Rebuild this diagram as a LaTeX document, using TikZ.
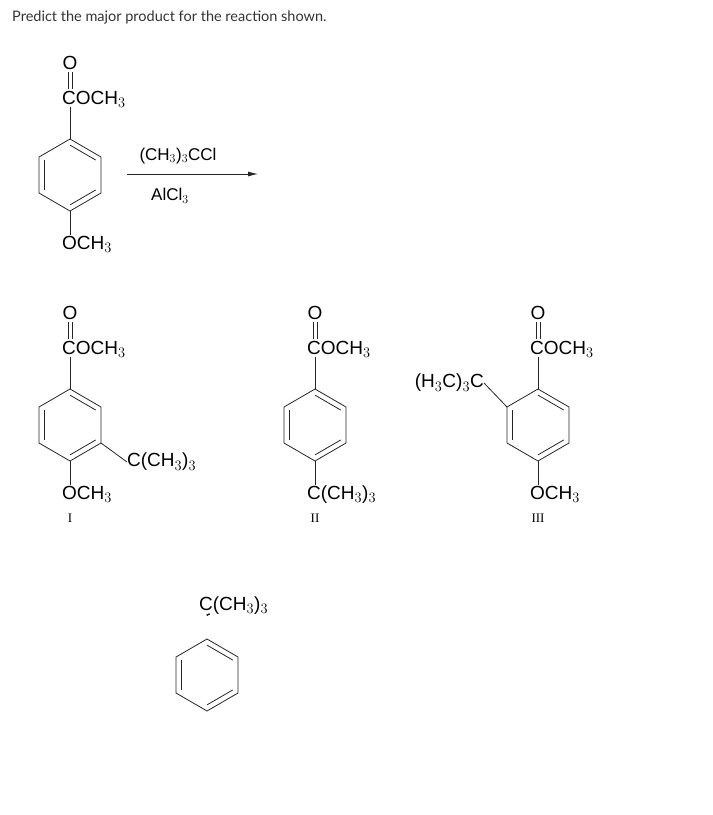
\documentclass[tikz,border=0pt]{standalone}
\usepackage{fontspec}
\usetikzlibrary{calc,arrows.meta}
\setmainfont{Liberation Sans}
\newfontfamily\latofont{Lato}
\newfontfamily\serifnum{Liberation Serif}
\tikzset{lab/.style={inner sep=0pt,font=\fontsize{19}{22}\selectfont},
 rom/.style={inner sep=0pt,font=\serifnum\fontsize{13}{15}\selectfont},
 bond/.style={line width=0.8pt,draw=black!85}}
\newcommand{\benz}[3]{%
 \coordinate (#3c0) at (#1,#2);
 \coordinate (#3t) at (#1,#2-36); \coordinate (#3tr) at (#1+31,#2-18);
 \coordinate (#3br) at (#1+31,#2+18); \coordinate (#3b) at (#1,#2+36);
 \coordinate (#3bl) at (#1-31,#2+18); \coordinate (#3tl) at (#1-31,#2-18);
 \draw[bond] (#3t)--(#3tr)--(#3br)--(#3b)--(#3bl)--(#3tl)--cycle;
 \draw[bond] ($(#3c0)!0.83!(#3tl)$)--($(#3c0)!0.83!(#3bl)$);
 \draw[bond] ($(#3c0)!0.83!(#3t)$)--($(#3c0)!0.83!(#3tr)$);
 \draw[bond] ($(#3c0)!0.83!(#3br)$)--($(#3c0)!0.83!(#3b)$);
}
\newcommand{\acyl}[3]{% top ester group
 \node[lab,anchor=base west] (#3c) at (#1-8,#2-71) {COCH$_3$};
 \node[lab] (#3o) at (#1,#2-112) {O};
 \draw[bond] (#1-2,#2-103)--(#1-2,#2-86); \draw[bond] (#1+2,#2-103)--(#1+2,#2-86);
 \draw[bond] (#3t)--(#1,#2-68);
}
\newcommand{\botlab}[4]{% bottom label
 \node[lab,anchor=base west] (#3x) at (#1-8,#2+74) {#4};
 \draw[bond] (#3b)--(#1,#2+60);
}
\begin{document}
\begin{tikzpicture}[x=1pt,y=-1pt]
\useasboundingbox (0,0) rectangle (713,815);
\node[anchor=base west,inner sep=0pt,font=\latofont\fontsize{14.5}{17}\selectfont,text=black!80] (q) at (12,21) {Predict the major product for the reaction shown.};
% starting material
\benz{70}{175}{s}\acyl{70}{175}{s}\botlab{70}{175}{s}{OCH$_3$}
\coordinate (a1) at (127,174); \coordinate (a2) at (258,174);
\draw[bond,-{Latex[length=10pt,width=5pt]}] (a1)--(a2);
\node[lab,font=\fontsize{17}{20}\selectfont] (r1) at (178,156) {(CH$_3$)$_3$CCl};
\node[lab,font=\fontsize{17}{20}\selectfont] (r2) at (170,196) {AlCl$_3$};
% I
\benz{70}{425}{p}\acyl{70}{425}{p}\botlab{70}{425}{p}{OCH$_3$}
\node[lab,anchor=west] (pt) at (127,462) {C(CH$_3$)$_3$};
\draw[bond] (pbr)--(pt.west);
\node[rom] (n1) at (70,518) {I};
% II
\benz{315}{425}{q}\acyl{315}{425}{q}\botlab{315}{425}{q}{C(CH$_3$)$_3$}
\node[rom] (n2) at (315,518) {II};
% III
\benz{538}{425}{r}\acyl{538}{425}{r}\botlab{538}{425}{r}{OCH$_3$}
\node[lab,anchor=east] (rt) at (484,383) {(H$_3$C)$_3$C};
\draw[bond] (rtl)--(rt.east);
\node[rom] (n3) at (538,518) {III};
% IV
\benz{207}{675}{u}
\node[lab,anchor=base west] (ut) at (199,610) {C(CH$_3$)$_3$};
\coordinate (ua) at (207,615);
\draw[bond] (ut)--(ua);
\draw[bond] (ut)--(ut);
\draw[bond] (ua)--(ut);
\draw[bond] (ut) (ua)--(ut);
\draw[bond] (ut) (ua) -- (ut);
\draw[bond] (ua) -- (ut);
\draw[bond] (ut) -- (ut);
\draw[bond] (ua) -- (ut);
\draw[bond] (ua) -- (ut);
\draw[bond] (ut) -- (ut);
\draw[bond] (ut);
\draw[bond] (ua) -- (ut);
\draw[bond] (ut) (ua) -- (ut);
\draw[bond] (ua) -- (ut);
\draw[bond] (ut);
\draw[bond] (ut);
\draw[bond] (ua) -- (ut);
\draw[bond] (ut);
\draw[bond] (ua)--(ut);
\draw[bond] (ut);
\draw[bond] (ua)--(ut);
\draw[bond] (ut);
\draw[bond] (ut);
\draw[bond] (ut);
\draw[bond] (ut);
\draw[bond] (ut);
\draw[bond] (ut);
\draw[bond] (ua)--(ut);
\draw[bond] (ut);
\draw[bond] (ut);
\draw[bond] (ua)--(ut);
\draw[bond] (ut);
\draw[bond] (ut);
\draw[bond] (ut);
\draw[bond] (ut);
\draw[bond] (ut);
\draw[bond] (ut);
\draw[bond] (ut);
\draw[bond] (ut);
\draw[bond] (ua)--(ut);
\draw[bond] (ut);
\draw[bond] (ut);
\draw[bond] (ut);
\draw[bond] (ut);
\draw[bond] (ua) -- (ut);
\draw[bond] (ut);
\draw[bond] (ut);
\draw[bond] (ut);
\draw[bond] (ut);
\draw[bond] (ut);
\draw[bond] (ut);
\draw[bond] (ut);
\draw[bond] (ut);
\draw[bond] (ua)--(ut);
\draw[bond] (ut);
\draw[bond] (ut);
\draw[bond] (ut);
\draw[bond] (ut);
\draw[bond] (ut);
\draw[bond] (ut);
\draw[bond] (ut);
\draw[bond] (ut);
\draw[bond] (ut);
\draw[bond] (ut);
\draw[bond] (ut);
\draw[bond] (ut);
\draw[bond] (ut);
\draw[bond] (ut);
\draw[bond] (ut);
\draw[bond] (ut);
\draw[bond] (ut);
\draw[bond] (ut);
\draw[bond] (ut);
\draw[bond] (ut);
\draw[bond] (ut);
\draw[bond] (ut);
\draw[bond] (ut);
\draw[bond] (ut);
\draw[bond] (ut);
\draw[bond] (ut);
\draw[bond] (ut);
\draw[bond] (ut);
\draw[bond] (ut);
\draw[bond] (ut);
\draw[bond] (ut);
\draw[bond] (ut);
\draw[bond] (ut);
\draw[bond] (ut);
\draw[bond] (ut);
\draw[bond] (ut);
\draw[bond] (ut);
\draw[bond] (ut);
\draw[bond] (ut);
\draw[bond] (ut);
\draw[bond] (ut);
\draw[bond] (ut);
\draw[bond] (ut);
\draw[bond] (ut);
\draw[bond] (ut);
\draw[bond] (ut);
\draw[bond] (ut);
\draw[bond] (ut);
\draw[bond] (ut);
\draw[bond] (ut);
\draw[bond] (ut);
\draw[bond] (ut);
\draw[bond] (ut);
\draw[bond] (ut);
\draw[bond] (ut);
\draw[bond] (ut);
\draw[bond] (ut);
\draw[bond] (ut);
\draw[bond] (ut);
\draw[bond] (ut);
\draw[bond] (ut);
\draw[bond] (ut);
\draw[bond] (ut);
\draw[bond] (ut);
\draw[bond] (ut);
\draw[bond] (ut);
\draw[bond] (ut);
\draw[bond] (ut);
\draw[bond] (ut);
\draw[bond] (ut);
\draw[bond] (ut);
\draw[bond] (ut);
\draw[bond] (ut);
\draw[bond] (ut);
\draw[bond] (ut);
\draw[bond] (ut);
\draw[bond] (ut);
\draw[bond] (ut);
\draw[bond] (ut);
\draw[bond] (ut);
\draw[bond] (ut);
\draw[bond] (ut);
\draw[bond] (ut);
\draw[bond] (ut);
\draw[bond] (ut);
\draw[bond] (ut);
\draw[bond] (ut);
\draw[bond] (ut);
\draw[bond] (ut);
\draw[bond] (ut);
\draw[bond] (ut);
\draw[bond] (ut);
\draw[bond] (ut);
\draw[bond] (ut);
\draw[bond] (ut);
\draw[bond] (ut);
\draw[bond] (ut);
\draw[bond] (ut);
\draw[bond] (ut);
\draw[bond] (ut);
\draw[bond] (ut);
\draw[bond] (ut);
\draw[bond] (ut);
\draw[bond] (ut);
\draw[bond] (ut);
\draw[bond] (ut);
\draw[bond] (ut);
\draw[bond] (ut);
\draw[bond] (ut);
\draw[bond] (ut);
\draw[bond] (ut);
\draw[bond] (ut);
\draw[bond] (ut);
\draw[bond] (ut);
\draw[bond] (ut);
\draw[bond] (ut);
\draw[bond] (ut);
\draw[bond] (ut);
\draw[bond] (ut);
\draw[bond] (ut);
\draw[bond] (ut);
\draw[bond] (ut);
\draw[bond] (ut);
\draw[bond] (ut);
\draw[bond] (ut);
\draw[bond] (ut);
\draw[bond] (ut);
\draw[bond] (ut);
\draw[bond] (ut);
\draw[bond] (ut);
\draw[bond] (ut);
\draw[bond] (ut);
\draw[bond] (ut);
\draw[bond] (ut);
\draw[bond] (ut);
\draw[bond] (ut);
\draw[bond] (ut);
\draw[bond] (ut);
\draw[bond] (ut);
\draw[bond] (ut);
\draw[bond] (ut);
\draw[bond] (ut);
\draw[bond] (ut);
\draw[bond] (ut);
\draw[bond] (ut);
\draw[bond] (ut);
\draw[bond] (ut);
\draw[bond] (ut);
\draw[bond] (ut);
\draw[bond] (ut);
\draw[bond] (ut);
\draw[bond] (ut);
\draw[bond] (ut);
\draw[bond] (ut);
\draw[bond] (ut);
\draw[bond] (ut);
\draw[bond] (ut);
\draw[bond] (ut);
\draw[bond] (ut);
\draw[bond] (ut);
\draw[bond] (ut);
\draw[bond] (ut);
\draw[bond] (ut);
\draw[bond] (ut);
\draw[bond] (ut);
\draw[bond] (ut);
\draw[bond] (ut);
\draw[bond] (ut);
\draw[bond] (ut);
\draw[bond] (ut);
\draw[bond] (ut);
\draw[bond] (ut);
\draw[bond] (ut);
\draw[bond] (ut);
\draw[bond] (ut);
\draw[bond] (ut);
\draw[bond] (ut);
\draw[bond] (ut);
\draw[bond] (ut);
\draw[bond] (ut);
\draw[bond] (ut);
\draw[bond] (ut);
\draw[bond] (ut);
\draw[bond] (ut);
\draw[bond] (ut);
\draw[bond] (ut);
\draw[bond] (ut);
\draw[bond] (ut);
\draw[bond] (ut);
\draw[bond] (ut);
\draw[bond] (ut);
\end{tikzpicture}
\end{document}
